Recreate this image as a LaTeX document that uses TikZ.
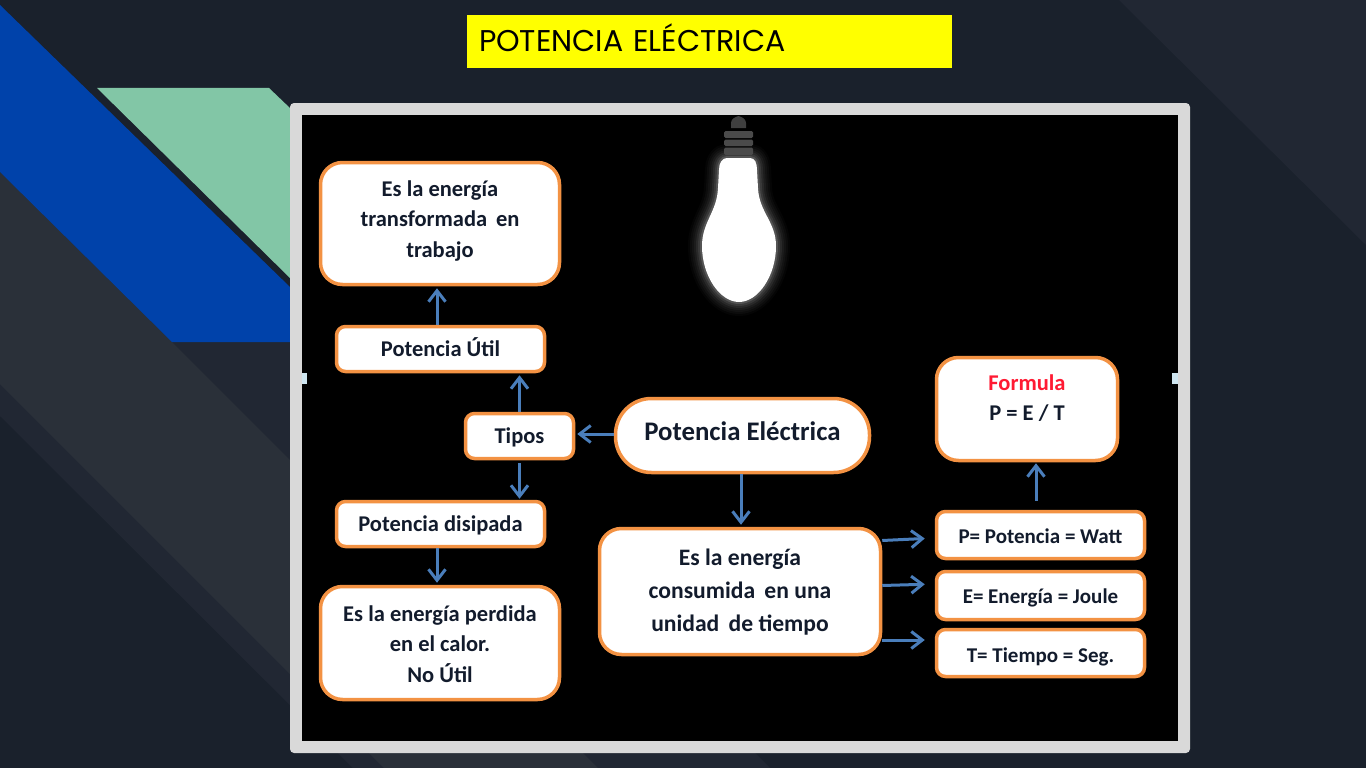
\documentclass[tikz,border=0pt]{standalone}
\usepackage{fontspec}
\setmainfont{Carlito}
\newfontfamily\titlefont{Poppins}
\usetikzlibrary{arrows.meta}
\definecolor{basebg}{HTML}{1A212C}
\definecolor{midbg}{HTML}{212733}
\definecolor{lightbg}{HTML}{2A3039}
\definecolor{blueband}{HTML}{0042AA}
\definecolor{greenband}{HTML}{82C6A6}
\definecolor{framegray}{HTML}{D9D9D9}
\definecolor{boxline}{HTML}{F39243}
\definecolor{arrowblue}{HTML}{4A7EBB}
\definecolor{txt}{HTML}{121B2C}
\definecolor{handle}{HTML}{CFE6F0}
\definecolor{socket}{HTML}{4A4A4A}
\definecolor{titlebg}{HTML}{FFFF00}
\tikzset{
  cbox/.style={draw=boxline,fill=white,line width=3.5pt,inner sep=0pt,align=center,text=txt,
    font=\fontsize{22.5}{30.5}\selectfont\bfseries},
  bigbox/.style={cbox,rounded corners=22pt},
  smallbox/.style={cbox,rounded corners=9pt},
  rowbox/.style={smallbox,font=\fontsize{21}{24}\selectfont\bfseries},
  conn/.style={draw=arrowblue,line width=3pt,-{Straight Barb[length=11pt,width=17pt]}},
}
\def\bulbpath{(727,158) -- (750,158) .. controls (755,158) and (757,163) .. (757,170)
  -- (758,188) .. controls (759,212) and (776,222) .. (776,246)
  .. controls (776,276) and (758,302) .. (739,302)
  .. controls (720,302) and (702,276) .. (702,246)
  .. controls (702,222) and (717,212) .. (718,188)
  -- (719,170) .. controls (719,163) and (722,158) .. (727,158) -- cycle}
\begin{document}
\begin{tikzpicture}[x=1pt,y=-1pt]
\useasboundingbox (0,0) rectangle (1366,768);
% background
\fill[basebg] (0,0) rectangle (1366,768);
\fill[midbg] (1119,0) -- (1366,245) -- (1366,0) -- cycle;
\fill[midbg] (0,172) -- (0,416) -- (353,768) -- (770,768) -- (300,298) -- cycle;
\fill[lightbg] (0,172) -- (172,342) -- (598,768) -- (384,768) -- (0,384) -- cycle;
\fill[blueband] (0,5) -- (291,288) -- (291,342) -- (172,342) -- (0,172) -- cycle;
\fill[greenband] (97,88) -- (269,88) -- (291,109) -- (291,279) -- cycle;
% frame
\fill[framegray,rounded corners=4pt] (290,103) rectangle (1190,753);
\fill[black] (302,115) rectangle (1178,741);
\fill[handle] (302,373) rectangle (307,384);
\fill[handle] (1172,373) rectangle (1178,384);
% title
\node[fill=titlebg,minimum width=485pt,minimum height=53pt,inner ysep=0pt,inner xsep=12pt,
  text width=461pt,align=left,text=black,text height=21pt,text depth=0pt,
  font=\fontsize{30}{30}\titlefont] (title) at (709.5,41.5) {POTENCIA ELÉCTRICA};
% bulb
\foreach \w/\o in {28/.02,24/.03,20/.03,16/.04,12/.06,8/.08,4/.14}{
  \draw[white,opacity=\o,line width=\w pt,line join=round] \bulbpath;
}
\fill[white] \bulbpath;
\fill[socket!85!black] (731,128) -- (731,123) .. controls (731,119) and (735,117) .. (738.5,116)
  .. controls (742,117) and (746,119) .. (746,123) -- (746,128) -- cycle;
\fill[socket,rounded corners=1.5pt] (724,131) rectangle (753,138);
\fill[socket,rounded corners=1.5pt] (724,139.5) rectangle (753,146);
\fill[socket,rounded corners=1.5pt] (724,147.5) rectangle (753,155);
% boxes
\node[bigbox,minimum width=239pt,minimum height=122pt,text depth=9pt] (util) at (440,223.5)
  {Es la energía\\transformada\, en\\trabajo};
\node[smallbox,minimum width=208pt,minimum height=45pt,text height=14pt,text depth=0pt] (putil) at (440.5,349) {Potencia Útil};
\node[smallbox,minimum width=108pt,minimum height=45pt,text height=14pt,text depth=0pt] (tipos) at (519.5,436) {Tipos};
\node[smallbox,minimum width=208pt,minimum height=45pt,text height=14pt,text depth=0pt] (pdis) at (440.5,524) {Potencia disipada};
\node[bigbox,minimum width=239pt,minimum height=113pt,text height=78pt,text depth=0pt] (perd) at (440,643)
  {Es la energía perdida\\en el calor.\\No Útil};
\node[cbox,rounded corners=36pt,minimum width=254pt,minimum height=74pt,text height=9pt,text depth=0pt,
  font=\fontsize{26.8}{30}\selectfont\bfseries] (central) at (742.5,435.5) {Potencia Eléctrica};
\node[bigbox,minimum width=281pt,minimum height=126pt,text height=79pt,text depth=0pt,
  font=\fontsize{23.6}{33}\selectfont\bfseries] (cons) at (740,591.5)
  {Es la energía\\consumida\, en una\\unidad\, de tiempo};
\node[bigbox,minimum width=181pt,minimum height=103pt,text depth=23pt] (form) at (1027,409)
  {\textcolor[HTML]{FF1A33}{Formula}\\P = E / T};
\node[rowbox,minimum width=208pt,minimum height=47pt,text height=16pt,text depth=0pt] (pw) at (1040.5,535) {P= Potencia = Watt};
\node[rowbox,minimum width=208pt,minimum height=48pt,text height=15pt,text depth=0pt] (ej) at (1040.5,595.5) {E= Energía = Joule};
\node[rowbox,minimum width=208pt,minimum height=47pt,text height=18pt,text depth=0pt] (ts) at (1040.5,653) {T= Tiempo = Seg.};
% connectors
\draw[conn,shorten >=2pt] ([xshift=-3.5pt]putil.north) -- ([xshift=-3pt]util.south);
\draw[conn,shorten >=2pt] (tipos.north) -- (tipos.north |- putil.south);
\draw[conn,shorten <=3pt,shorten >=1pt] (tipos.south) -- (tipos.south |- pdis.north);
\draw[conn,shorten >=2pt] ([xshift=-3.5pt]pdis.south) -- ([xshift=-3pt]perd.north);
\draw[conn,shorten >=2pt] ([yshift=1.5pt]central.west) -- ([yshift=2pt]tipos.east);
\draw[conn,shorten >=2pt] ([xshift=-1.5pt]central.south) -- ([xshift=1pt]cons.north);
\draw[conn,shorten <=9pt,shorten >=1pt] ([xshift=-4.5pt]pw.north) -- ([xshift=9pt]form.south);
\draw[conn,shorten >=10pt] ([yshift=51pt]cons.east) -- ([yshift=-3pt]pw.west);
\draw[conn,shorten >=10pt] ([yshift=6pt]cons.east) -- ([yshift=11.5pt]ej.west);
\draw[conn,shorten >=10pt] ([yshift=-48.5pt]cons.east) -- ([yshift=13pt]ts.west);
\end{tikzpicture}
\end{document}
